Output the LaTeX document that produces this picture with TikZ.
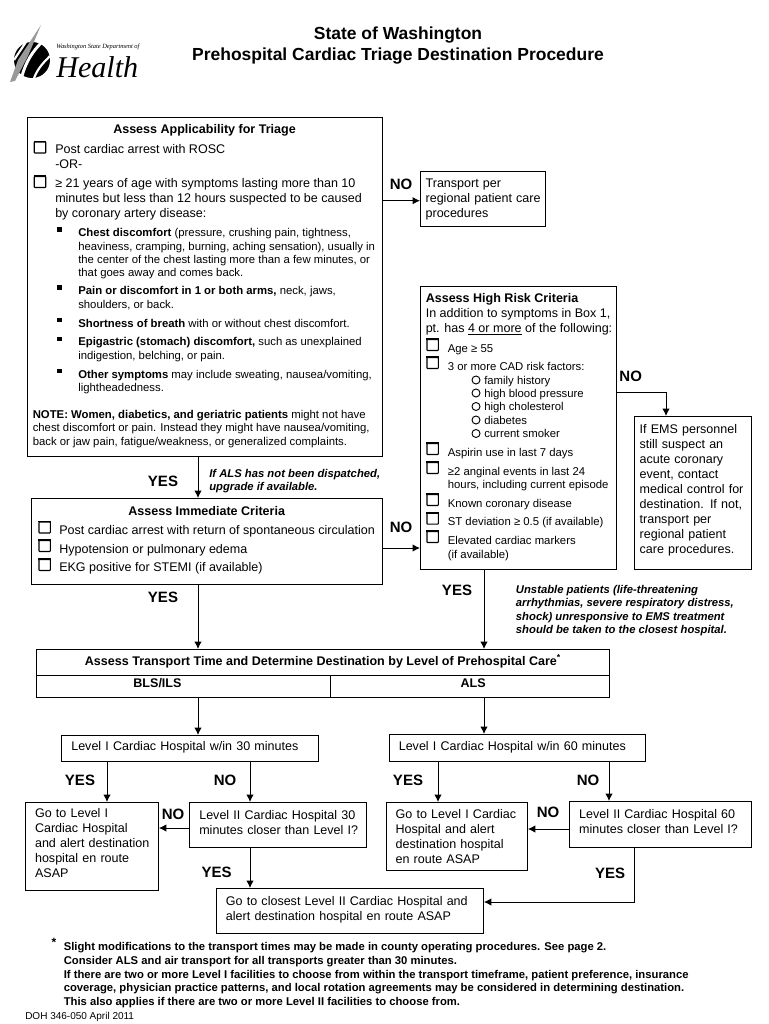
\documentclass[tikz,border=0pt]{standalone}
\usepackage{fontspec}
\setmainfont{Liberation Sans}
\newfontfamily\logofont{Liberation Serif}
\usetikzlibrary{arrows.meta}
\newcommand{\bodyfnt}{\fontsize{9.4}{11.25}\selectfont}
\newcommand{\smallfnt}{\fontsize{8.5}{10}\selectfont}
\newcommand{\notefnt}{\fontsize{8.45}{10.1}\selectfont\bfseries}
\newcommand{\headfnt}{\fontsize{9.4}{11}\selectfont\bfseries}
\tikzset{
    flowbox/.style 2 args={draw,line width=0.7pt,inner sep=0pt,anchor=north west,align=left,font=\bodyfnt,minimum width=#1*0.75pt,minimum height=#2*0.75pt},
    flowarrow/.style={-{Latex[length=5.5pt,width=5.5pt]},line width=0.7pt},
    answer/.style={inner sep=0pt,font=\fontsize{11.25}{13}\selectfont\bfseries},
    headtext/.style={inner sep=0pt,font=\headfnt},
    bodytext/.style={anchor=north west,inner sep=0pt,align=left,font=\bodyfnt},
    smalltext/.style={anchor=north west,inner sep=0pt,align=left,font=\smallfnt},
    ringtext/.style={anchor=west,inner sep=0pt,font=\smallfnt,text height=8pt,text depth=2pt},
    notetext/.style={anchor=north west,inner sep=0pt,align=left,font=\notefnt},
    chkbox/.style={draw,rounded corners=0.5pt,line width=0.8pt,minimum width=8.6pt,minimum height=8.2pt,inner sep=0pt,
        append after command={(\tikzlastnode.north west) edge[line width=1.3pt,rounded corners=0pt] (\tikzlastnode.north east)}},
    bulletbox/.style={fill=black,minimum size=3.4pt,inner sep=0pt},
    ringbox/.style={draw,circle,line width=0.7pt,minimum size=6pt,inner sep=0pt}
}
\begin{document}
\begin{tikzpicture}[x=0.75pt,y=-0.75pt]
    \useasboundingbox (0,0) rectangle (768,1024);
    % logo
    \fill (32,60) circle [radius=18];
    \draw[white,line width=2.2pt] (22,76) .. controls (26,62) and (32,52) .. (42,42);
    \draw[white,line width=1.6pt] (34,78) .. controls (38,68) and (44,62) .. (50,56);
    \draw[white,line width=1.6pt] (14,60) .. controls (18,54) and (22,48) .. (26,42);
    \fill[black!40] (41,25) -- (18,60) -- (10,82) -- (15,81) -- (28,56) -- cycle;
    \node[anchor=west,inner sep=0pt,font=\logofont\fontsize{4.8}{5}\selectfont\itshape] (LOGOA) at (56,47) {Washington State Department of};
    \node[anchor=west,inner sep=0pt,font=\logofont\fontsize{22.6}{24}\selectfont\itshape] (LOGOB) at (56,67) {Health};
    % title
    \node[inner sep=0pt,font=\fontsize{13.1}{15}\selectfont\bfseries] (TA) at (398,35.5) {State of Washington};
    \node[inner sep=0pt,font=\fontsize{13.1}{15}\selectfont\bfseries] (TB) at (398,56.5) {Prehospital Cardiac Triage Destination Procedure};
    % boxes
    \node[flowbox={355}{339}] (APP) at (27,117) {};
    \node[flowbox={125}{55},text width=86pt,text depth=24pt] (TR) at (420,171) {Transport per\\\mbox{regional patient care}\\procedures};
    \node[flowbox={196}{283}] (HR) at (420,286) {};
    \node[flowbox={117}{153},text width=80pt,text depth=96.5pt] (EMS) at (634,416) {If EMS personnel\\still suspect an\\acute coronary\\event, contact\\medical control for\\destination. If not,\\transport per\\regional patient\\care procedures.};
    \node[flowbox={351}{86}] (IMM) at (31,498) {};
    \node[flowbox={573}{25.5},font=\headfnt,align=center,text depth=3.5pt] (TT) at (36,649) {Assess Transport Time and Determine Destination by Level of Prehospital Care\textsuperscript{*}};
    \node[flowbox={294}{22.5},font=\headfnt,text height=7pt,text depth=4.4pt] (BLS) at (36,674.5) {BLS/ILS\hspace{39pt}};
    \node[flowbox={279}{22.5},font=\headfnt,text height=7pt,text depth=4.4pt] (ALS) at (330,674.5) {\hspace{4.8pt}ALS};
    \node[flowbox={257}{26},text width=178pt,text depth=4pt] (LA) at (61,735) {Level I Cardiac Hospital w/in 30 minutes};
    \node[flowbox={256}{27},text width=178pt,text depth=3pt] (LB) at (389,734) {Level I Cardiac Hospital w/in 60 minutes};
    \node[flowbox={133.5}{88},text width=85pt,text depth=50pt] (GA) at (24.5,802) {Go to Level I\\Cardiac Hospital\\\mbox{and alert destination}\\hospital en route\\ASAP};
    \node[flowbox={177}{45},text width=118pt,text depth=15.7pt] (LCA) at (189,802) {Level II Cardiac Hospital 30\\\mbox{minutes closer than Level I?}};
    \node[flowbox={141}{68},text width=92pt] (GB) at (386,802) {Go to Level I Cardiac\\Hospital and alert\\destination hospital\\en route ASAP};
    \node[flowbox={182}{46},text width=122pt,text depth=16pt] (LCB) at (569,801) {Level II Cardiac Hospital 60\\\mbox{minutes closer than Level I?}};
    \node[flowbox={267}{45},text width=186pt,text depth=14.75pt] (GC) at (216,888) {Go to closest Level II Cardiac Hospital and\\alert destination hospital en route ASAP};
    % text of box 1
    \node[headtext] (APPH) at (204.5,130) {Assess Applicability for Triage};
    \node[chkbox] (CA) at (40,147.5) {};
    \node[bodytext] (APPA) at (55,144) {Post cardiac arrest with ROSC\\-OR-};
    \node[chkbox] (CB) at (40,182) {};
    \node[bodytext] (APPB) at (55,178) {≥ 21 years of age with symptoms lasting more than 10\\minutes but less than 12 hours suspected to be caused\\by coronary artery disease:};
    \node[bulletbox] (DA) at (59.5,229.5) {};
    \node[smalltext] (APPC) at (78,228.5) {\textbf{Chest discomfort} (pressure, crushing pain, tightness,\\heaviness, cramping, burning, aching sensation), usually in\\the center of the chest lasting more than a few minutes, or\\that goes away and comes back.};
    \node[bulletbox] (DB) at (59.5,287.5) {};
    \node[smalltext] (APPD) at (78,286.5) {\textbf{Pain or discomfort in 1 or both arms,} neck, jaws,\\shoulders, or back.};
    \node[bulletbox] (DC) at (59.5,320) {};
    \node[smalltext] (APPE) at (78,319) {\textbf{Shortness of breath} with or without chest discomfort.};
    \node[bulletbox] (DD) at (59.5,339) {};
    \node[smalltext] (APPF) at (78,337.5) {\textbf{Epigastric (stomach) discomfort,} such as unexplained\\indigestion, belching, or pain.};
    \node[bulletbox] (DE) at (59.5,371) {};
    \node[smalltext] (APPG) at (78,370) {\textbf{Other symptoms} may include sweating, nausea/vomiting,\\lightheadedness.};
    \node[smalltext] (APPI) at (32.5,410) {\textbf{NOTE: Women, diabetics, and geriatric patients} might not have\\chest discomfort or pain. Instead they might have nausea/vomiting,\\back or jaw pain, fatigue/weakness, or generalized complaints.};
    % text of immediate box
    \node[headtext] (IMMH) at (206.7,511.5) {Assess Immediate Criteria};
    \node[chkbox] (CC) at (44.7,527.5) {};
    \node[bodytext] (IMMA) at (59,525) {Post cardiac arrest with return of spontaneous circulation};
    \node[chkbox] (CD) at (44.7,546) {};
    \node[bodytext] (IMMB) at (59,544) {Hypotension or pulmonary edema};
    \node[chkbox] (CE) at (44.7,565) {};
    \node[bodytext] (IMMC) at (59,562) {EKG positive for STEMI (if available)};
    % text of high risk box
    \node[headtext,anchor=west] (HRH) at (425.5,299) {Assess High Risk Criteria};
    \node[bodytext] (HRA) at (425.5,308) {In addition to symptoms in Box 1,\\pt. has \underline{4 or more} of the following:};
    \node[chkbox] (CF) at (432.7,345) {};
    \node[smalltext] (HRB) at (447.6,344.5) {Age ≥ 55};
    \node[chkbox] (CG) at (432.7,363) {};
    \node[smalltext] (HRC) at (447.6,362.5) {3 or more CAD risk factors:};
    \node[ringbox] (RA) at (476,380) {};
    \node[ringtext] (HRD) at (484,380) {family history};
    \node[ringbox] (RB) at (476,393) {};
    \node[ringtext] (HRE) at (484,393) {high blood pressure};
    \node[ringbox] (RC) at (476,406.5) {};
    \node[ringtext] (HRF) at (484,406.5) {high cholesterol};
    \node[ringbox] (RD) at (476,420) {};
    \node[ringtext] (HRG) at (484,420) {diabetes};
    \node[ringbox] (RE) at (476,433.5) {};
    \node[ringtext] (HRI) at (484,433.5) {current smoker};
    \node[chkbox] (CH) at (432.7,449) {};
    \node[smalltext] (HRJ) at (447.6,448.5) {Aspirin use in last 7 days};
    \node[chkbox] (CI) at (432.7,468) {};
    \node[smalltext] (HRK) at (447.6,466.7) {≥2 anginal events in last 24\\hours, including current episode};
    \node[chkbox] (CJ) at (432.7,500) {};
    \node[smalltext] (HRL) at (447.6,498.7) {Known coronary disease};
    \node[chkbox] (CK) at (432.7,518.7) {};
    \node[smalltext] (HRM) at (447.6,517.5) {ST deviation ≥ 0.5 (if available)};
    \node[chkbox] (CL) at (432.7,537) {};
    \node[smalltext] (HRN) at (447.6,536.5) {Elevated cardiac markers\\(if available)};
    % notes
    \node[notetext] (NA) at (209,469) {\itshape If ALS has not been dispatched,\\\itshape upgrade if available.};
    \node[notetext] (NB) at (515.7,585) {\itshape Unstable patients (life-threatening\\\itshape arrhythmias, severe respiratory distress,\\\itshape shock) unresponsive to EMS treatment\\\itshape should be taken to the closest hospital.};
    \node[inner sep=0pt,font=\fontsize{9}{10}\selectfont\bfseries] (FS) at (54,942) {*};
    \node[notetext,font=\fontsize{8.45}{10.25}\selectfont\bfseries] (FA) at (63.5,942.5) {Slight modifications to the transport times may be made in county operating procedures. See page 2.\\Consider ALS and air transport for all transports greater than 30 minutes.\\If there are two or more Level I facilities to choose from within the transport timeframe, patient preference, insurance\\coverage, physician practice patterns, and local rotation agreements may be considered in determining destination.\\This also applies if there are two or more Level II facilities to choose from.};
    \node[anchor=west,inner sep=0pt,font=\fontsize{7.5}{9}\selectfont] (DOH) at (25,1017) {DOH 346-050 April 2011};
    % answers
    \node[answer] (NOA) at (401,184) {NO};
    \node[answer] (YESA) at (163,481) {YES};
    \node[answer] (NOB) at (401,527) {NO};
    \node[answer] (YESB) at (163,597) {YES};
    \node[answer] (NOC) at (630.7,376) {NO};
    \node[answer] (YESC) at (457,590) {YES};
    \node[answer] (YESD) at (80,780) {YES};
    \node[answer] (NOD) at (225,780) {NO};
    \node[answer] (NOE) at (173,814) {NO};
    \node[answer] (YESE) at (216.7,872.7) {YES};
    \node[answer] (YESF) at (408,780) {YES};
    \node[answer] (NOF) at (588,780) {NO};
    \node[answer] (NOG) at (548,812.7) {NO};
    \node[answer] (YESG) at (610,873) {YES};
    % connector columns and rows
    \coordinate (colA) at (198,0);
    \coordinate (colB) at (484,0);
    \coordinate (colC) at (107,0);
    \coordinate (colD) at (250,0);
    \coordinate (colE) at (438,0);
    \coordinate (colF) at (609,0);
    \coordinate (colG) at (634,0);
    \coordinate (colH) at (666,0);
    \coordinate (rowA) at (0,200.7);
    \coordinate (rowB) at (0,548);
    \coordinate (rowC) at (0,392);
    \coordinate (rowD) at (0,828);
    \coordinate (rowE) at (0,829);
    \coordinate (rowF) at (0,902);
    % connectors
    \draw[flowarrow] (APP.east |- rowA) -- (TR.west |- rowA);
    \draw[flowarrow] (APP.south -| colA) -- (IMM.north -| colA);
    \draw[flowarrow] (IMM.east |- rowB) -- (HR.west |- rowB);
    \draw[flowarrow] (IMM.south -| colA) -- (TT.north -| colA);
    \draw[flowarrow] (HR.south -| colB) -- (TT.north -| colB);
    \draw[flowarrow] (HR.east |- rowC) -| (EMS.north -| colH);
    \draw[flowarrow] (BLS.south -| colA) -- (LA.north -| colA);
    \draw[flowarrow] (ALS.south -| colB) -- (LB.north -| colB);
    \draw[flowarrow] (LA.south -| colC) -- (GA.north -| colC);
    \draw[flowarrow] (LA.south -| colD) -- (LCA.north -| colD);
    \draw[flowarrow] (LCA.west |- rowD) -- (GA.east |- rowD);
    \draw[flowarrow] (LCA.south -| colD) -- (GC.north -| colD);
    \draw[flowarrow] (LB.south -| colE) -- (GB.north -| colE);
    \draw[flowarrow] (LB.south -| colF) -- (LCB.north -| colF);
    \draw[flowarrow] (LCB.west |- rowE) -- (GB.east |- rowE);
    \draw[flowarrow] (LCB.south -| colG) |- (GC.east |- rowF);
\end{tikzpicture}
\end{document}
